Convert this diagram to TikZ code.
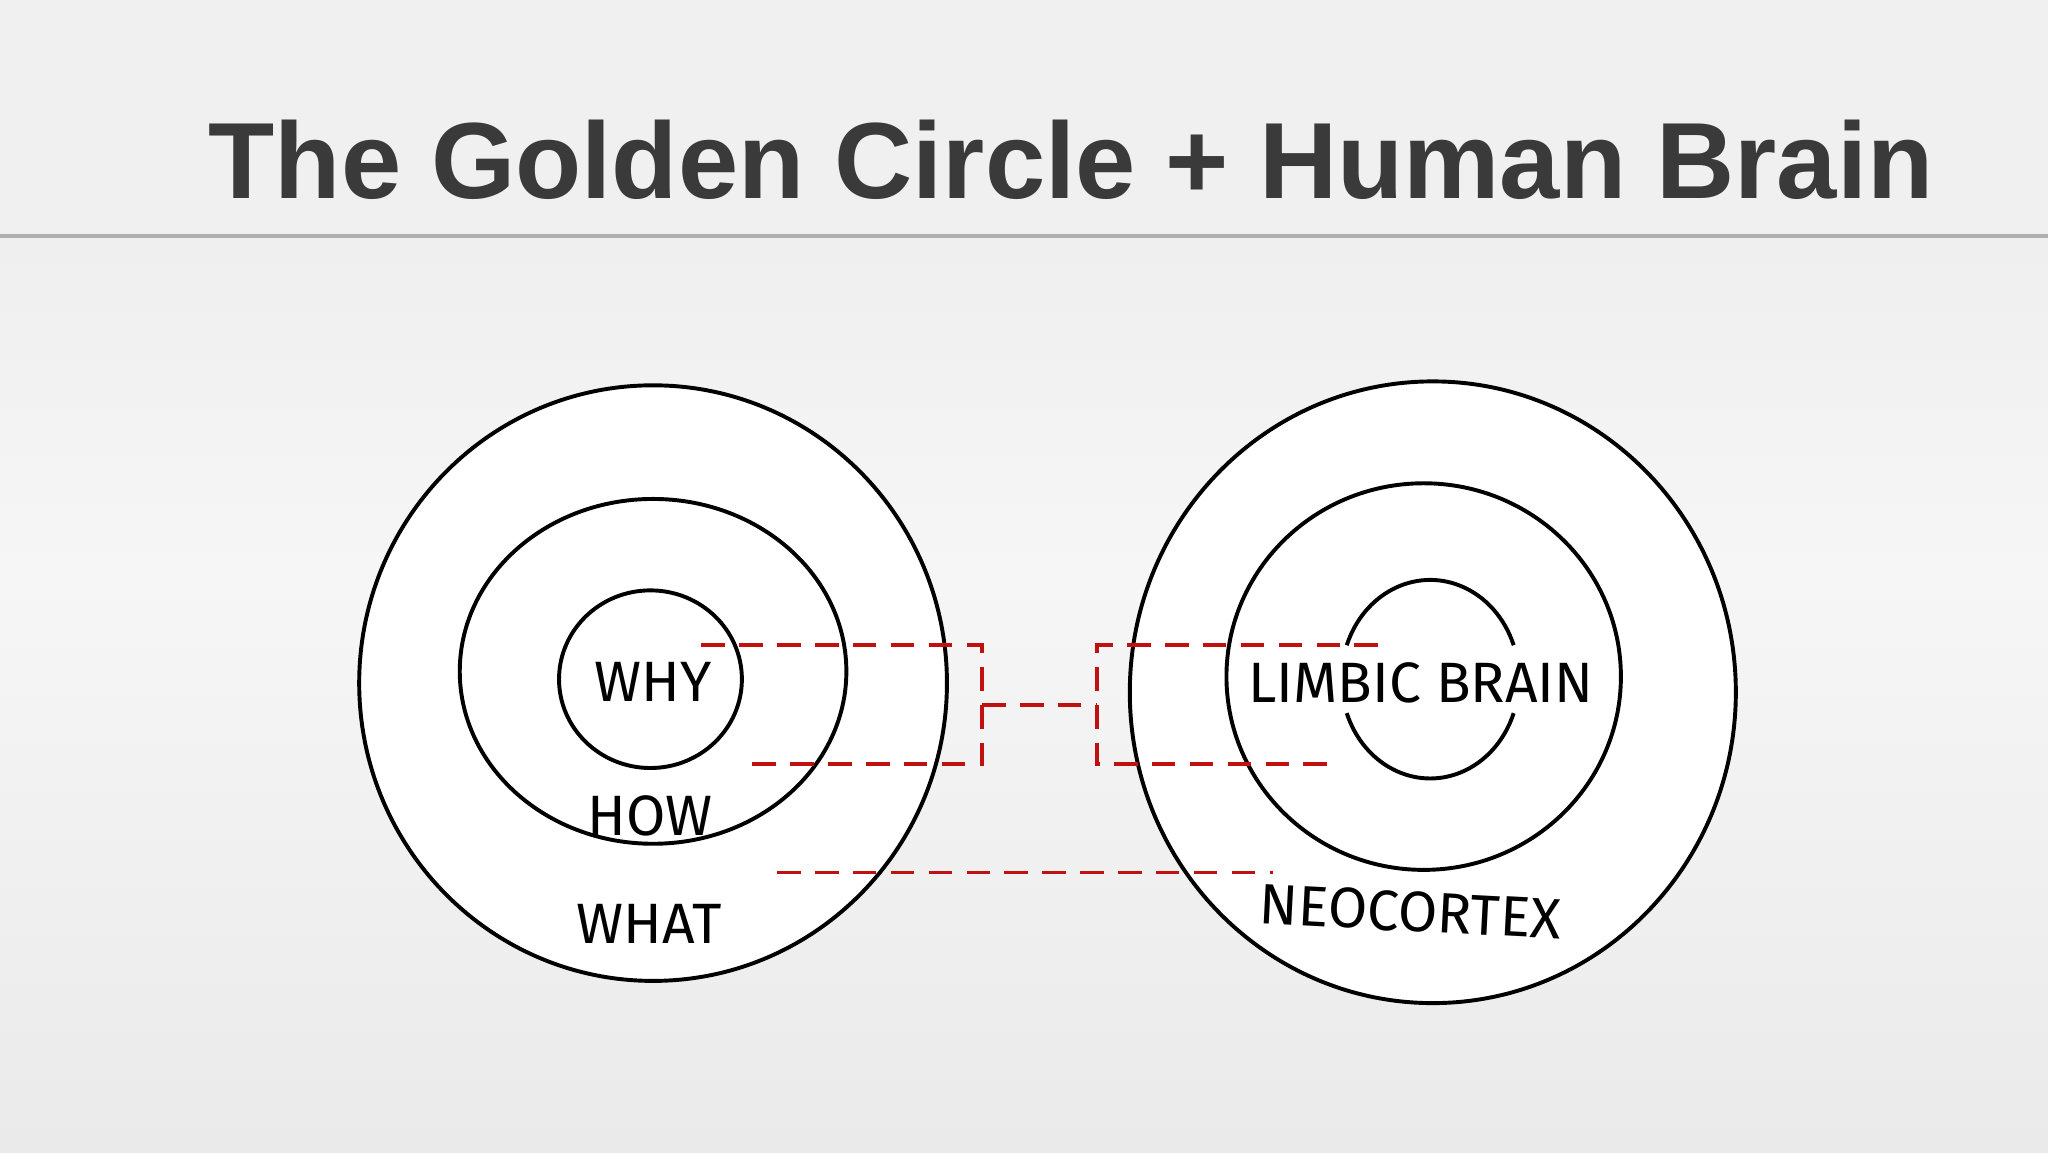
\documentclass[tikz,border=0pt]{standalone}
\usepackage{fontspec}
\setmainfont{Liberation Sans}
\newfontfamily\hand{Fira Sans}
\definecolor{bgA}{RGB}{234,234,234}
\definecolor{bgM}{RGB}{246,246,246}
\definecolor{band}{RGB}{240,240,240}
\definecolor{rule}{RGB}{175,175,175}
\definecolor{ttl}{RGB}{58,58,58}
\definecolor{dred}{RGB}{192,16,16}
\begin{document}
\begin{tikzpicture}[x=0.05cm,y=-0.05cm,
  ring/.style={draw=black,line width=0.15cm,fill=white},
  lbl/.style={font=\hand\fontsize{62}{62}\selectfont,inner sep=0pt},
  reddash/.style={draw=dred,line width=0.15cm,dash pattern=on 0.9cm off 0.55cm}]
\useasboundingbox (0,0) rectangle (1568,882);
\shade[top color=bgA,bottom color=bgA,middle color=bgM] (0,0) rectangle (1568,882);
\fill[band] (0,0) rectangle (1568,180);
\draw[rule,line width=0.15cm] (0,181) -- (1568,181);
\node[font=\bfseries\fontsize{118}{118}\selectfont,text=ttl] (title) at (820,122) {The Golden Circle + Human Brain};
% left
\draw[ring] (500,523) ellipse [x radius=225,y radius=228];
\draw[ring] (500,514) ellipse [x radius=148,y radius=132];
\draw[ring] (498,520) ellipse [x radius=70,y radius=68];
\node[lbl] (why) at (500,522) {WHY};
\node[lbl] (how) at (498,625) {HOW};
\node[lbl] (what) at (497,707) {WHAT};
% right
\draw[ring] (1097,530) ellipse [x radius=232,y radius=238];
\draw[ring] (1090,518) ellipse [x radius=151,y radius=148];
\draw[draw=black,line width=0.15cm] (1095,520) ++(160:68 and 76) arc[start angle=160,end angle=20,x radius=68,y radius=76];
\draw[draw=black,line width=0.15cm] (1095,520) ++(200:68 and 76) arc[start angle=200,end angle=340,x radius=68,y radius=76];
\node[lbl] (limbic) at (1088,523) {LIMBIC BRAIN};
\node[lbl,rotate=-3] (neo) at (1080,698) {NEOCORTEX};
% dashed connectors
\coordinate (l1) at (537,494); \coordinate (l2) at (752,494); \coordinate (l3) at (752,585); \coordinate (l4) at (570,585);
\coordinate (lm) at (752,540); \coordinate (rm) at (840,540);
\coordinate (r1) at (1055,494); \coordinate (r2) at (840,494); \coordinate (r3) at (840,585); \coordinate (r4) at (1020,585);
\coordinate (b1) at (595,668); \coordinate (b2) at (975,668);
\draw[reddash] (l1) -- (l2) -- (l3) -- (l4);
\draw[reddash] (lm) -- (rm);
\draw[reddash] (r1) -- (r2) -- (r3) -- (r4);
\draw[reddash] (b1) -- (b2);
\end{tikzpicture}
\end{document}
